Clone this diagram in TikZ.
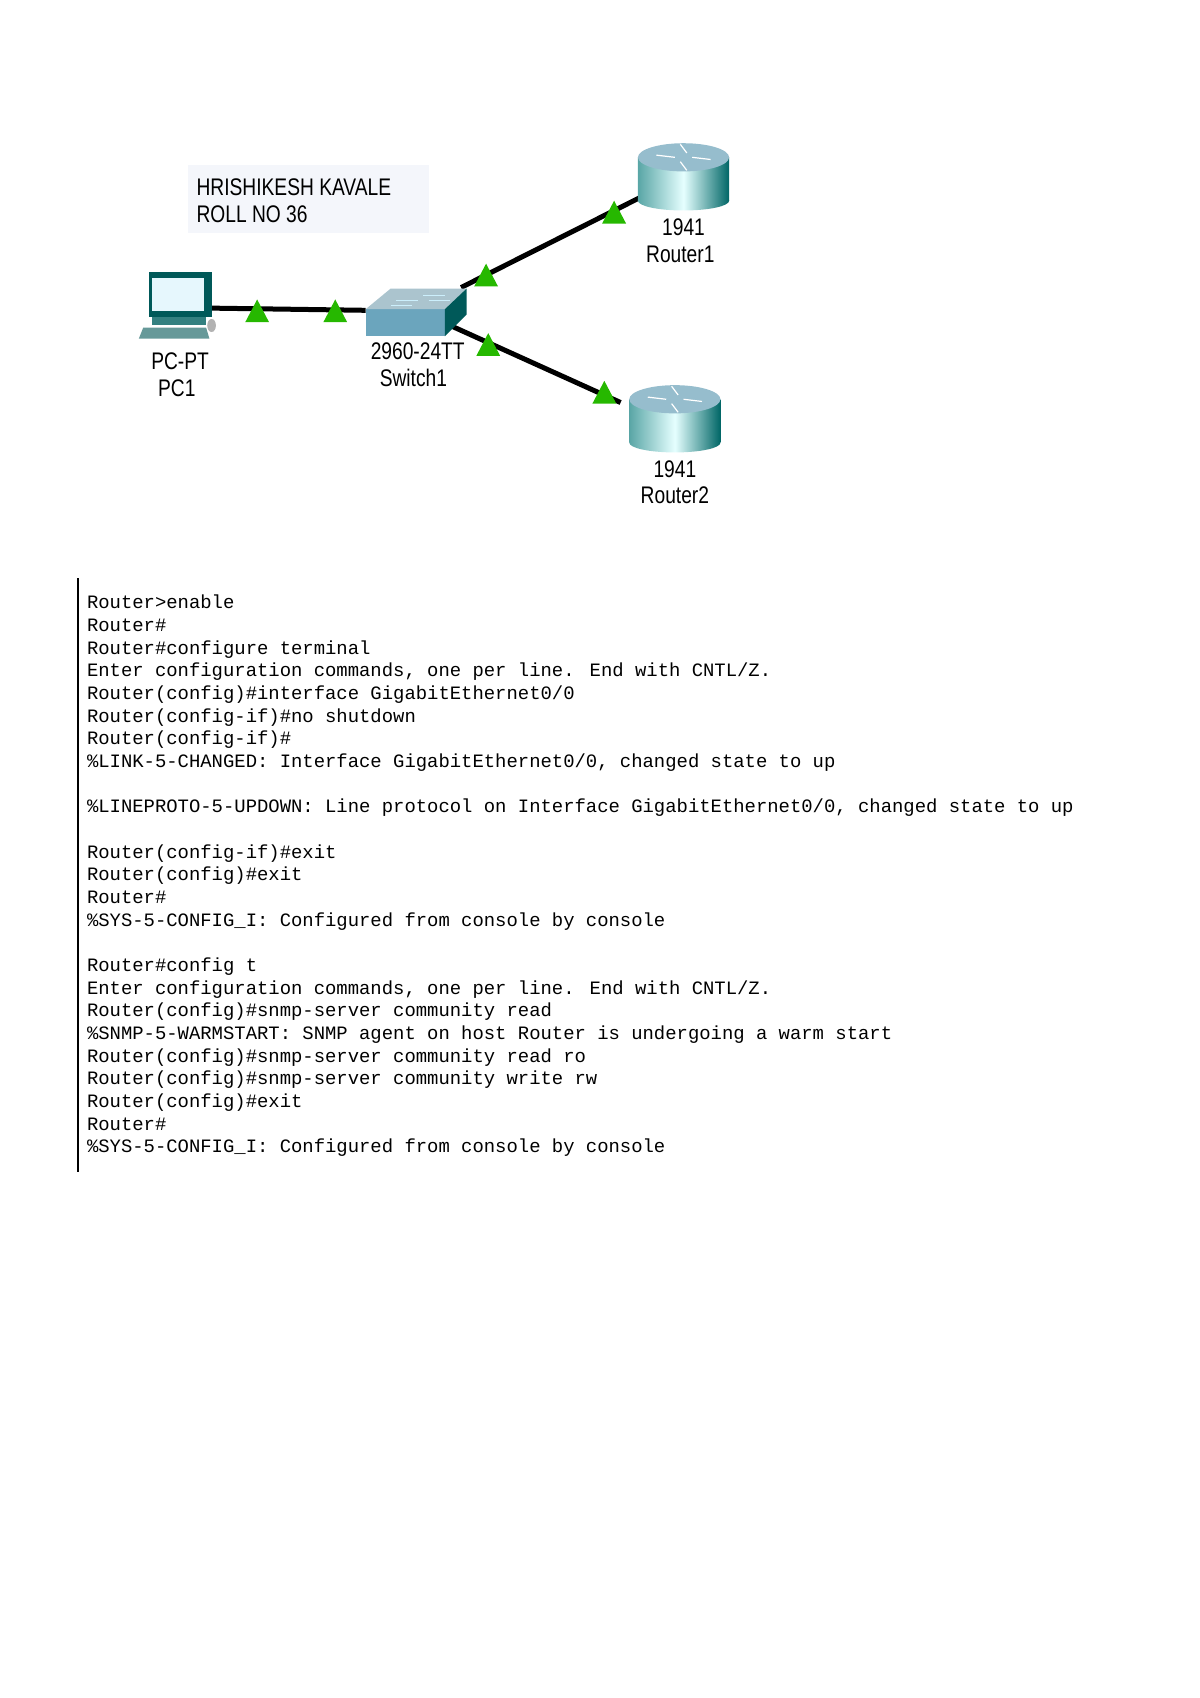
\documentclass[tikz,border=0pt]{standalone}
\usepackage{fontspec}
\setmainfont{Liberation Sans}
\newfontfamily\nar{Liberation Sans}[FakeStretch=0.8]
\newfontfamily\mono{Liberation Mono}
\begin{document}
\begin{tikzpicture}[x=1.085pt,y=-1.085pt,
  lbl/.style={font=\nar\fontsize{24}{26}\selectfont,inner sep=0pt,anchor=base},
  con/.style={font=\mono\fontsize{18.9}{21}\selectfont,inner sep=0pt,anchor=base west},
  link/.style={line width=5pt,black},
  tri/.pic={\fill[green!65!black!80!lime] (-11,0) -- (11,0) -- (0,-21) -- cycle;}]
\useasboundingbox (0,0) rectangle (1106,1565);
% title box
\node[fill={rgb,255:red,244;green,246;blue,251},minimum width=241pt,minimum height=68pt,anchor=north west,inner sep=0pt] (box) at (173,152) {};
\node[lbl,anchor=base west] (t1) at (181,180) {HRISHIKESH KAVALE};
\node[lbl,anchor=base west] (t2) at (181,205) {ROLL NO 36};
% device anchor coordinates
\coordinate (pc) at (195,284);
\coordinate (swl) at (337,286);
\coordinate (swr1) at (425,265);
\coordinate (swr2) at (415,300);
\coordinate (r1) at (590,182);
\coordinate (r2) at (572,371);
\draw[link] (pc) -- (swl);
\draw[link] (swr1) -- (r1);
\draw[link] (swr2) -- (r2);
% PC
\fill[teal!70!black] (137,251) rectangle (195,292);
\fill[cyan!10!white] (140,256) rectangle (188,287);
\fill[teal!60!gray] (140,292) rectangle (190,300);
\fill[teal!50!gray!80] (132,302) -- (190,302) -- (193,312) -- (128,312) -- cycle;
\fill[gray!60] (195,300) ellipse (4 and 6);
% Switch
\fill[cyan!45!gray] (337,285) rectangle (410,310);
\fill[cyan!30!gray!60] (337,285) -- (360,266) -- (430,266) -- (410,285) -- cycle;
\fill[teal!70!black] (410,285) -- (430,266) -- (430,290) -- (410,310) -- cycle;
\draw[white!80!cyan,line width=0.6pt] (365,277)--(385,277) (390,272)--(410,272) (360,281)--(380,281) (395,277)--(415,277);
% Routers
\foreach \cx/\cy/\nm in {630/165/R1,622/388/R2}{
  \shade[left color=cyan!30!gray,right color=teal!80!black,middle color=cyan!10!white] (\cx-42,\cy-20) rectangle (\cx+42,\cy+20);
  \shade[left color=cyan!30!gray,right color=teal!80!black,middle color=cyan!10!white] (\cx,\cy+20) ellipse (42 and 9);
  \fill[cyan!40!gray!70] (\cx,\cy-20) ellipse (42 and 13);
  \draw[white,line width=1.2pt] (\cx-25,\cy-22)--(\cx-8,\cy-20) (\cx+8,\cy-20)--(\cx+25,\cy-18) (\cx-3,\cy-32)--(\cx+3,\cy-24) (\cx-3,\cy-16)--(\cx+3,\cy-8);
}
\node[lbl] (pcl1) at (166,341) {PC-PT};
\node[lbl] (pcl2) at (163,365) {PC1};
\node[lbl] (swl1) at (385,331) {2960-24TT};
\node[lbl] (swl2) at (381,356) {Switch1};
\node[lbl] (r1a) at (630,217) {1941};
\node[lbl] (r1b) at (627,242) {Router1};
\node[lbl] (r2a) at (622,440) {1941};
\node[lbl] (r2b) at (622,464) {Router2};
% link lights
\foreach \p in {(237,297),(309,297),(448,264),(566,206),(450,328),(557,372)} \pic at \p {tri};
% console
\draw[line width=2pt] (72,533) -- (72,1080);
\foreach \i/\t in {0/{Router>enable},1/{Router\#},2/{Router\#configure terminal},3/{Enter configuration commands, one per line.  End with CNTL/Z.},4/{Router(config)\#interface GigabitEthernet0/0},5/{Router(config-if)\#no shutdown},6/{Router(config-if)\#},7/{\%LINK-5-CHANGED: Interface GigabitEthernet0/0, changed state to up},9/{\%LINEPROTO-5-UPDOWN: Line protocol on Interface GigabitEthernet0/0, changed state to up},11/{Router(config-if)\#exit},12/{Router(config)\#exit},13/{Router\#},14/{\%SYS-5-CONFIG\_I: Configured from console by console},16/{Router\#config t},17/{Enter configuration commands, one per line.  End with CNTL/Z.},18/{Router(config)\#snmp-server community read},19/{\%SNMP-5-WARMSTART: SNMP agent on host Router is undergoing a warm start},20/{Router(config)\#snmp-server community read ro},21/{Router(config)\#snmp-server community write rw},22/{Router(config)\#exit},23/{Router\#},24/{\%SYS-5-CONFIG\_I: Configured from console by console}}
  \node[con] (c\i) at (80,561+20.9*\i) {\obeyspaces\t};
\end{tikzpicture}
\end{document}
